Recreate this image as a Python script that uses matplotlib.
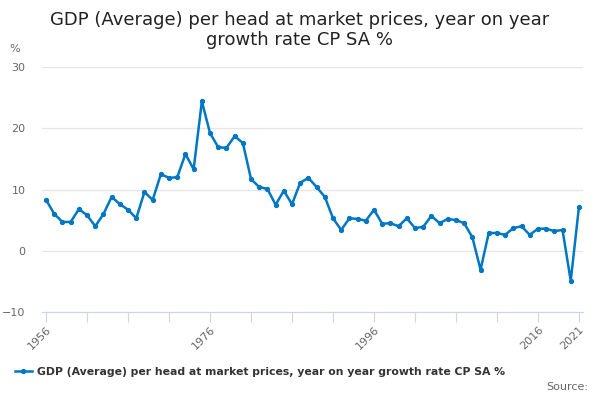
import matplotlib
matplotlib.use("Agg")
import matplotlib.pyplot as plt

# annual growth, GDP per head at market prices (%)
years = list(range(1956, 2022))
growth = [8.3, 6.0, 4.7, 4.7, 6.8, 5.8, 4.0, 6.0, 8.8, 7.6,
          6.7, 5.3, 9.6, 8.3, 12.5, 11.9, 12.0, 15.8, 13.3, 24.4,
          19.2, 16.9, 16.8, 18.7, 17.6, 11.7, 10.4, 10.1, 7.5, 9.8,
          7.6, 11.1, 11.9, 10.4, 8.8, 5.3, 3.4, 5.3, 5.2, 4.9,
          6.7, 4.4, 4.5, 4.0, 5.3, 3.7, 3.9, 5.7, 4.5, 5.2,
          5.0, 4.5, 2.2, -3.1, 2.9, 2.9, 2.6, 3.7, 4.0, 2.6,
          3.6, 3.6, 3.2, 3.4, -4.9, 7.1]
tick_years = list(range(1956, 2022, 5))
label_years = [1956, 1976, 1996, 2016, 2021]
series_name = "GDP (Average) per head at market prices, year on year growth rate CP SA %"

BLUE = "#0077c2"
GRID = "#e6e6e6"
AXIS = "#ccd6eb"

fig = plt.figure(figsize=(6, 4), dpi=100)
ax = fig.add_axes([0.07, 0.22, 0.9017, 0.6125])

ax.plot(years, growth, color=BLUE, lw=1.8, marker="o", ms=2.8, zorder=3)

ax.set_xlim(1955.5, 2021.5)
ax.set_ylim(-10, 30)
ax.set_yticks([-10, 0, 10, 20, 30])
ax.grid(axis="y", color=GRID, lw=1)
ax.set_axisbelow(True)
for s in ["top", "right", "left"]:
    ax.spines[s].set_visible(False)
ax.spines["bottom"].set_color(AXIS)
ax.tick_params(axis="y", length=0, labelsize=8, labelcolor="#666666", pad=12)

# ticks every 5 years, labels only on selected years
ax.set_xticks(tick_years)
ax.set_xticklabels([str(y) if y in label_years else "" for y in tick_years],
                   rotation=45, ha="right", rotation_mode="anchor")
ax.tick_params(axis="x", length=7, color=AXIS, labelsize=8, labelcolor="#666666", pad=2)

fig.text(0.5, 0.925, "GDP (Average) per head at market prices, year on year\ngrowth rate CP SA %",
         ha="center", va="center", fontsize=13, color="#222222", linespacing=1.2)
fig.text(0.015, 0.87, "%", fontsize=8, color="#666666")

ax.legend(loc="upper center", bbox_to_anchor=(0.403, -0.185), frameon=False,
          prop={"size": 7.8, "weight": "bold"}, handlelength=1.6, handletextpad=0.5,
          labels=[series_name], labelcolor="#333333")
fig.text(0.98, 0.025, "Source:", ha="right", fontsize=8, color="#666666")

fig.savefig("out.png", dpi=100)
